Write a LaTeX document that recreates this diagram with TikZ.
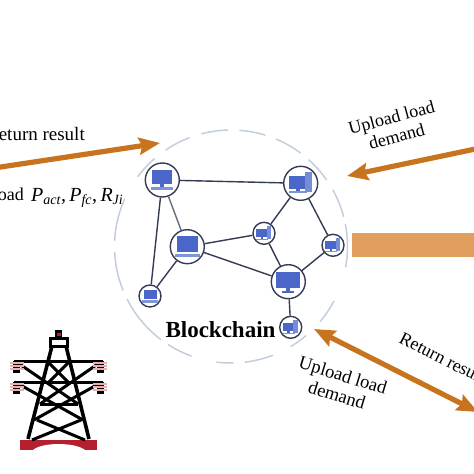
\documentclass[tikz,border=0pt]{standalone}
\usepackage{fontspec}
\setmainfont{Liberation Serif}
\usetikzlibrary{arrows.meta}
\definecolor{arrowor}{HTML}{C8741F}
\definecolor{baror}{HTML}{E09E5F}
\definecolor{iconb}{HTML}{4A66C8}
\definecolor{ringc}{HTML}{C3CEDD}
\definecolor{netc}{HTML}{333B55}
\definecolor{towerred}{HTML}{B5202E}
\definecolor{towerpink}{HTML}{E8B0B0}
\tikzset{
 x=1pt,y=-1pt,
 bigpc/.style={circle,draw=netc,line width=1.4pt,fill=white,minimum size=34pt,inner sep=0pt},
 smallpc/.style={circle,draw=netc,line width=1.4pt,fill=white,minimum size=22pt,inner sep=0pt},
 link/.style={draw=netc,line width=1.4pt},
 flow/.style={draw=arrowor,line width=5.2pt,-{Stealth[length=21pt,width=17pt,inset=3pt]}},
 flowboth/.style={draw=arrowor,line width=5.2pt,{Stealth[length=21pt,width=17pt,inset=3pt]}-{Stealth[length=21pt,width=17pt,inset=3pt]}},
 lbl/.style={inner sep=0pt,font=\fontsize{18}{20}\selectfont,align=center},
 twr/.style={line width=3pt,black},
 pics/monitor/.style={code={
   \fill[iconb] (-#1*12,-#1*10) rectangle (#1*12,#1*6);
   \fill[iconb] (-#1*2,#1*6) rectangle (#1*2,#1*9);
   \fill[iconb] (-#1*6,#1*9) rectangle (#1*6,#1*11);
 }},
 pics/desk/.style={code={
   \fill[iconb] (-#1*10,-#1*10) rectangle (#1*10,#1*4);
   \fill[iconb] (-#1*2,#1*4) rectangle (#1*2,#1*7);
   \fill[iconb!70] (-#1*11,#1*7) rectangle (#1*11,#1*10);
 }},
 pics/laptop/.style={code={
   \fill[iconb] (-#1*10,-#1*10) rectangle (#1*10,#1*5);
   \fill[iconb!70] (-#1*12,#1*6.5) rectangle (#1*12,#1*10);
 }},
 pics/tower/.style={code={
   \fill[iconb] (-#1*12,-#1*7) rectangle (#1*6,#1*6);
   \fill[iconb] (-#1*5,#1*6) rectangle (-#1*1,#1*8);
   \fill[iconb!70] (-#1*12,#1*8) rectangle (#1*6,#1*10);
   \fill[iconb!75] (#1*4,-#1*11) rectangle (#1*11,#1*9);
 }},
}
\begin{document}
\begin{tikzpicture}
\useasboundingbox (0,0) rectangle (474,474);
\clip (0,0) rectangle (474,474);
% ring, its dashes
\foreach \aa/\bb in {-104.6/-91.6,-85.6/-73,-67/-53.5,-48/-35,-29/-15,-11/10,28/40,50/59,69/83,89/97,110/122.5,127/153,158/177,183/204,217/229,236/249}
 \draw[ringc,line width=1.5pt,line cap=round] plot[domain=\aa:\bb,samples=14,smooth] ({231+116.5*cos(\x)},{246.5+116.5*sin(\x)});
% nodes
\node[bigpc] (n1) at (162.3,180) {};
\node[bigpc] (n2) at (300.7,183.3) {};
\node[bigpc] (n3) at (187.3,246.7) {};
\node[smallpc] (n4) at (264,233.3) {};
\node[smallpc] (n5) at (333,245.3) {};
\node[bigpc] (n6) at (288.3,281.7) {};
\node[smallpc] (n7) at (150,296) {};
\node[smallpc] (n8) at (290.7,327.3) {};
\draw[link] (n1)--(n2) (n1)--(n7) (n3)--(n7) (n3)--(n4) (n3)--(n6)
 (n4)--(n2) (n4)--(n6) (n2)--(n5) (n5)--(n6) (n6)--(n8);
\draw[link,draw=netc!75] (n1)--(n3);
\pic at (n1) {desk=1};
\pic at (n2) {tower=1};
\pic at (n3) {laptop=1.05};
\pic at (n4) {tower=0.65};
\pic at (n5) {tower=0.65};
\pic at (n6) {monitor=1};
\pic at (n7) {laptop=0.65};
\pic at (n8) {tower=0.65};
\node[inner sep=0pt,font=\fontsize{23}{25}\selectfont\bfseries,anchor=base] (bc) at (220.5,337) {Blockchain};
% flows
\coordinate (a1s) at (-6,168); \coordinate (a1e) at (160,143);
\draw[flow] (a1s)--(a1e);
\coordinate (a2s) at (480,148); \coordinate (a2e) at (347,176);
\draw[flow] (a2s)--(a2e);
\coordinate (a3s) at (478,412); \coordinate (a3e) at (314,329);
\draw[flowboth] (a3s)--(a3e);
\fill[baror] (352,233) rectangle (474,257);
% labels
\node[lbl,anchor=base east,font=\fontsize{19}{21}\selectfont] (t1) at (85,140) {Return result};
\node[lbl,anchor=base east] (t2) at (24,200) {Upload};
\node[lbl,anchor=base west] (t3) at (31,201) {\fontsize{20}{22}\selectfont\itshape P\textsubscript{act}\upshape,\,\itshape P\textsubscript{fc}\upshape,\,\itshape R\textsubscript{Ji}};
\node[lbl,rotate=15] (t4) at (394,127) {Upload load\\demand};
\node[lbl,rotate=-17,font=\fontsize{18.5}{20.5}\selectfont] (t5) at (340,385) {Upload load\\demand};
\node[lbl,rotate=-27,anchor=base west] (t6) at (398,342) {Return result};
% transmission tower
\begin{scope}[shift={(0,320)}]
 \fill[towerred] (20,120) rectangle (97,130);
 \fill[white] (33,130) .. controls (42,122) and (75,122) .. (85,130) -- cycle;
 \fill[black] (55,10) rectangle (62,18);
 \fill[towerred] (56.5,13) rectangle (60.5,16);
 \draw[twr] (50.5,18) rectangle (67.5,26);
 \draw[twr,line width=3.6pt] (52,26) -- (28,119);
 \draw[twr,line width=3.6pt] (66,26) -- (89,119);
 \draw[twr] (14,41) -- (103,41);
 \draw[twr] (14,62) -- (103,62);
 \draw[twr] (15,41) -- (78,84) (102,41) -- (40,84);
 \draw[twr] (15,62) -- (83,100) (102,62) -- (34,100);
 \draw[twr] (47,41) -- (68,62) (70,41) -- (49,62);
 \draw[twr] (40,84) -- (78,84);
 \draw[twr] (37,100) -- (85,120) (81,100) -- (32,120);
 \foreach \yy in {41,62}{
  \fill[black] (13,\yy) rectangle (20,\yy+12);
  \fill[black] (97,\yy) rectangle (104,\yy+12);
  \draw[towerpink,line width=1.6pt] (10,\yy+2)--(24,\yy+2) (10,\yy+5)--(24,\yy+5) (10,\yy+8)--(24,\yy+8);
  \draw[towerpink,line width=1.6pt] (93,\yy+2)--(107,\yy+2) (93,\yy+5)--(107,\yy+5) (93,\yy+8)--(107,\yy+8);
 }
\end{scope}
\end{tikzpicture}
\end{document}
